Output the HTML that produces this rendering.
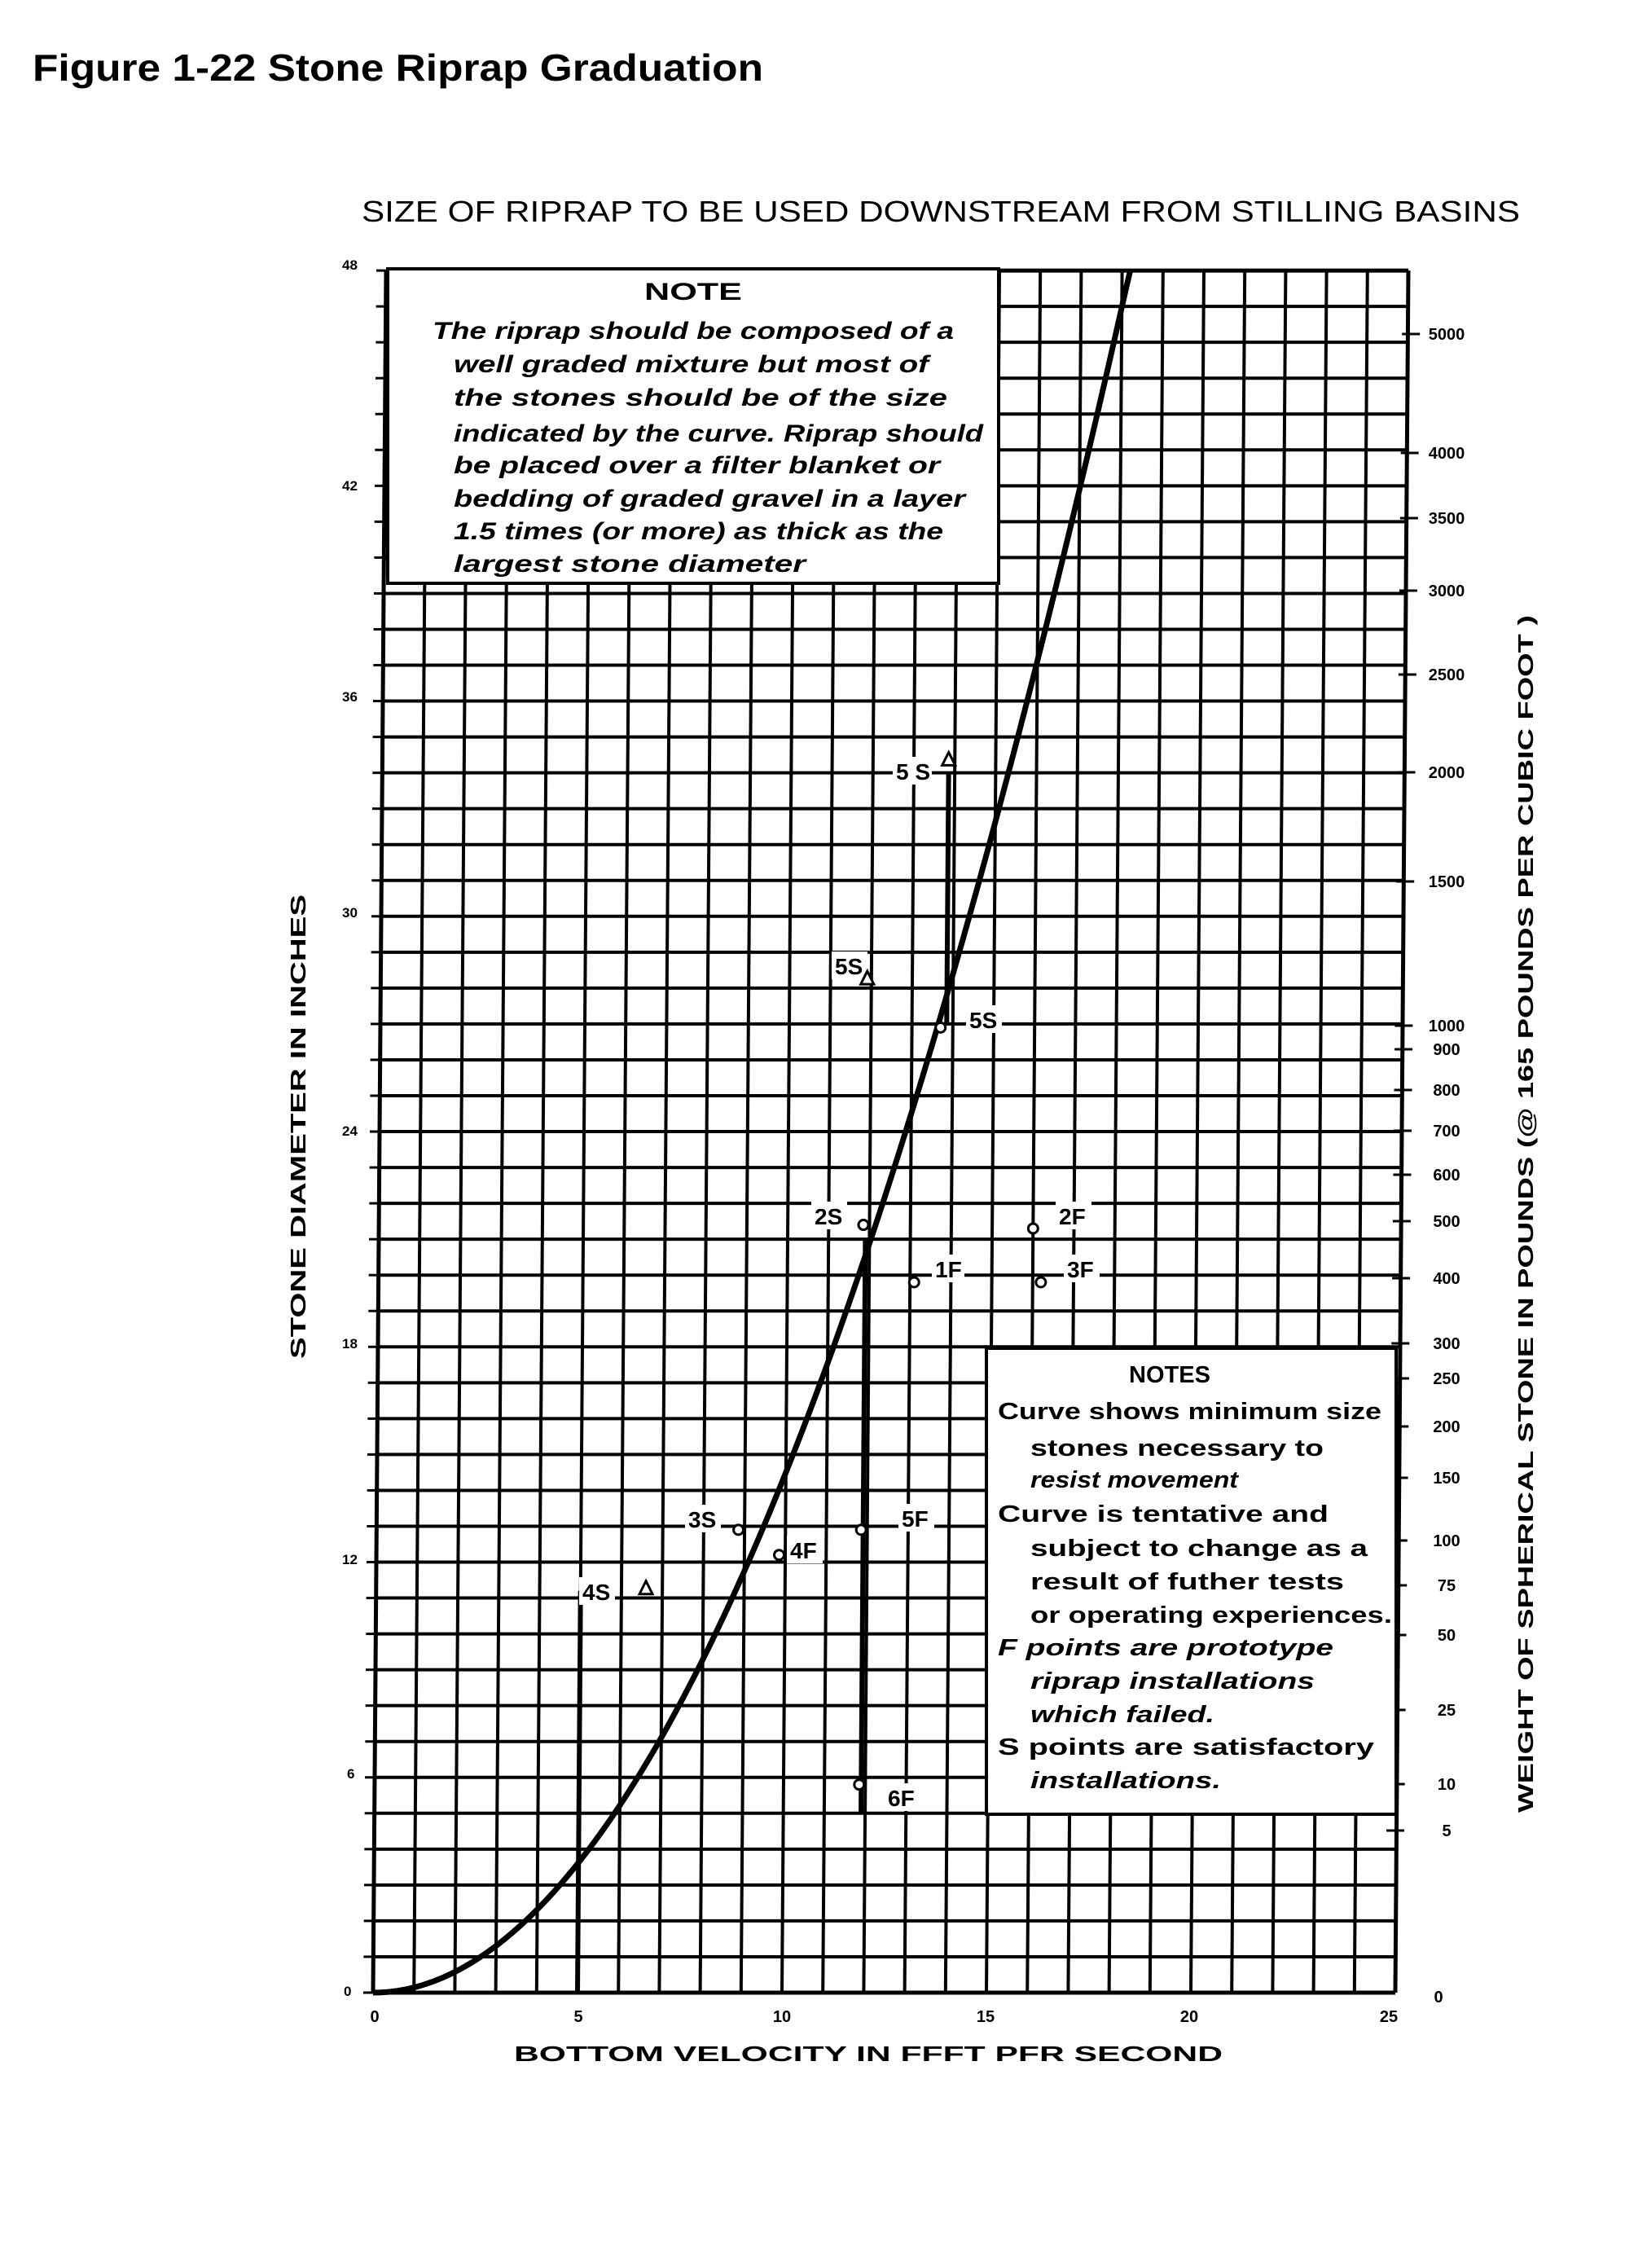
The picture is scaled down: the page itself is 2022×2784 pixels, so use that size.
<!DOCTYPE html>
<html><head><meta charset="utf-8"><style>
html,body{margin:0;padding:0;background:#fff;}
svg{display:block;}
text{font-family:"Liberation Sans",sans-serif;font-weight:bold;fill:#000;}
</style></head><body>
<svg id="s" width="2022" height="2784" viewBox="0 0 2022 2784" xmlns="http://www.w3.org/2000/svg">
<rect width="2022" height="2784" fill="#fff"/>
<text x="40" y="99" font-size="46" textLength="897" lengthAdjust="spacingAndGlyphs">Figure 1-22  Stone Riprap Graduation</text>
<text x="444" y="272" font-size="36" textLength="1422" lengthAdjust="spacingAndGlyphs" style="font-weight:normal">SIZE OF RIPRAP TO BE USED DOWNSTREAM FROM STILLING BASINS</text>
<g id="grid"></g>
<g id="over"></g>
<g font-size="17">
<text x="420" y="331">48</text><text x="420" y="602">42</text><text x="420" y="861">36</text>
<text x="420" y="1126">30</text><text x="420" y="1394">24</text><text x="420" y="1655">18</text>
<text x="420" y="1920">12</text><text x="426" y="2183">6</text><text x="422" y="2450">0</text>
</g>
<g font-size="20" text-anchor="middle">
<text x="460" y="2482">0</text><text x="710" y="2482">5</text><text x="960" y="2482">10</text>
<text x="1210" y="2482">15</text><text x="1460" y="2482">20</text><text x="1705" y="2482">25</text>
<text x="1766" y="2458">0</text>
</g>
<text x="1066" y="2530" font-size="26" text-anchor="middle" textLength="870" lengthAdjust="spacingAndGlyphs">BOTTOM  VELOCITY  IN  FFFT  PFR  SECOND</text>
<text transform="translate(375,1383) rotate(-90)" font-size="26" text-anchor="middle" textLength="570" lengthAdjust="spacingAndGlyphs">STONE  DIAMETER  IN  INCHES</text>
<text transform="translate(1882,1490) rotate(-90)" font-size="26" text-anchor="middle" textLength="1470" lengthAdjust="spacingAndGlyphs">WEIGHT  OF  SPHERICAL  STONE  IN  POUNDS   (@  165  POUNDS  PER  CUBIC  FOOT )</text>
<g id="rlab" font-size="20"></g>
<rect x="476" y="330" width="750" height="386" fill="#fff" stroke="#000" stroke-width="4"/>
<g font-size="30" font-style="italic">
<text x="851" y="368" text-anchor="middle" font-style="normal" textLength="120" lengthAdjust="spacingAndGlyphs">NOTE</text>
<text x="531" y="416" textLength="640" lengthAdjust="spacingAndGlyphs">The riprap should be composed of a</text>
<text x="557" y="457" textLength="583" lengthAdjust="spacingAndGlyphs">well graded mixture but most of</text>
<text x="557" y="498" textLength="606" lengthAdjust="spacingAndGlyphs">the stones should be of the size</text>
<text x="557" y="542" textLength="650" lengthAdjust="spacingAndGlyphs">indicated by the curve. Riprap should</text>
<text x="557" y="581" textLength="597" lengthAdjust="spacingAndGlyphs">be placed over a filter blanket or</text>
<text x="557" y="622" textLength="628" lengthAdjust="spacingAndGlyphs">bedding of graded gravel in a layer</text>
<text x="557" y="662" textLength="601" lengthAdjust="spacingAndGlyphs">1.5 times (or more) as thick as the</text>
<text x="557" y="702" textLength="432" lengthAdjust="spacingAndGlyphs">largest stone diameter</text>
</g>
<rect x="1211" y="1655" width="503" height="572" fill="#fff" stroke="#000" stroke-width="4"/>
<g font-size="29">
<text x="1436" y="1697" text-anchor="middle" textLength="100" lengthAdjust="spacingAndGlyphs">NOTES</text>
<text x="1225" y="1742" textLength="471" lengthAdjust="spacingAndGlyphs">Curve shows minimum size</text>
<text x="1265" y="1787" textLength="360" lengthAdjust="spacingAndGlyphs">stones necessary to</text>
<text x="1265" y="1826" textLength="255" lengthAdjust="spacingAndGlyphs" font-style="italic">resist movement</text>
<text x="1225" y="1868" textLength="406" lengthAdjust="spacingAndGlyphs">Curve is tentative and</text>
<text x="1265" y="1910" textLength="414" lengthAdjust="spacingAndGlyphs">subject to change as a</text>
<text x="1265" y="1951" textLength="385" lengthAdjust="spacingAndGlyphs">result of futher tests</text>
<text x="1265" y="1992" textLength="444" lengthAdjust="spacingAndGlyphs">or operating experiences.</text>
<text x="1225" y="2032" textLength="412" lengthAdjust="spacingAndGlyphs" font-style="italic">F points are prototype</text>
<text x="1265" y="2073" textLength="349" lengthAdjust="spacingAndGlyphs" font-style="italic">riprap installations</text>
<text x="1265" y="2114" textLength="226" lengthAdjust="spacingAndGlyphs" font-style="italic">which failed.</text>
<text x="1225" y="2154" textLength="462" lengthAdjust="spacingAndGlyphs">S points are satisfactory</text>
<text x="1265" y="2195" textLength="234" lengthAdjust="spacingAndGlyphs" font-style="italic">installations.</text>
</g>
<g id="pts"></g>
<script>
(function(){
var NS="http://www.w3.org/2000/svg";
function P(v,d){return [458+v*50.2+d*16/48, 2446-d*44.04];}
function el(p,t,a){var e=document.createElementNS(NS,t);for(var k in a)e.setAttribute(k,a[k]);p.appendChild(e);return e;}
var g=document.getElementById('grid');
for(var v=0;v<=25;v++){var a=P(v,0),b=P(v,48);el(g,'line',{x1:a[0],y1:a[1],x2:b[0],y2:b[1],stroke:'#000','stroke-width':(v==0||v==25)?5:4});}
for(var d=0;d<=48;d++){var a=P(0,d),b=P(25,d);el(g,'line',{x1:a[0],y1:a[1],x2:b[0],y2:b[1],stroke:'#000','stroke-width':(d==0||d==48)?5:4});}
for(var d=0;d<=48;d++){var a=P(0,d);el(g,'line',{x1:a[0]-12,y1:a[1],x2:a[0],y2:a[1],stroke:'#000','stroke-width':3});}
var rl=[[5000,410],[4000,556],[3500,636],[3000,725],[2500,828],[2000,948],[1500,1082],[1000,1259],[900,1288],[800,1338],[700,1388],[600,1442],[500,1499],[400,1569],[300,1649],[250,1692],[200,1751],[150,1814],[100,1891],[75,1946],[50,2007],[25,2099],[10,2190],[5,2247]];
var rg=document.getElementById('rlab');
rl.forEach(function(r){var y=r[1];var x=1722-(y-332)*0.0104;el(g,'line',{x1:x,y1:y,x2:x+22,y2:y,stroke:'#000','stroke-width':3});var t=el(rg,'text',{x:1776,y:y+7,'text-anchor':'middle'});t.textContent=r[0];});
var o=document.getElementById('over');
function L(v1,d1,v2,d2,w){var a=P(v1,d1),b=P(v2,d2);el(o,'line',{x1:a[0],y1:a[1],x2:b[0],y2:b[1],stroke:'#000','stroke-width':w||6});}
L(5,0,5,11.2,6);L(11.9,5,11.9,21,6);L(13.85,27,13.85,34,6);
var pts=[];for(var v=0;v<=18.4;v+=0.1){var dd=0.145*v*v;if(dd>48)dd=48;pts.push(P(v,dd).join(','));if(dd>=48)break;}
el(o,'polyline',{points:pts.join(' '),fill:'none',stroke:'#000','stroke-width':7});
var pg=document.getElementById('pts');
function lab(px,py,txt,w){el(pg,'rect',{x:px-4,y:py-28,width:w,height:34,fill:'#fff'});var t=el(pg,'text',{x:px,y:py,'font-size':28});t.textContent=txt;}
function circ(v,d){var p=P(v,d);el(pg,'circle',{cx:p[0],cy:p[1],r:6,fill:'#fff',stroke:'#000','stroke-width':3});}
function tri(v,d){var p=P(v,d);el(pg,'polygon',{points:(p[0])+','+(p[1]-12)+' '+(p[0]-8)+','+(p[1]+4)+' '+(p[0]+8)+','+(p[1]+4),fill:'#fff',stroke:'#000','stroke-width':3});}
lab(1100,957,'5 S',48);tri(13.85,34.3);
lab(1025,1196,'5S',44);tri(11.9,28.2);
lab(1190,1262,'5S',44);circ(13.7,26.9);
lab(1000,1503,'2S',44);circ(11.85,21.4);
lab(1148,1568,'1F',40);circ(13.1,19.8);
lab(1300,1503,'2F',44);circ(16.0,21.3);
lab(1310,1568,'3F',44);circ(16.2,19.8);
lab(845,1875,'3S',44);circ(8.85,12.9);
lab(970,1913,'4F',44);circ(9.85,12.2);
lab(1107,1874,'5F',44);circ(11.85,12.9);
lab(715,1964,'4S',44);tri(6.6,11.2);
lab(1090,2217,'6F',44);circ(11.85,5.8);
})();
</script>
</svg>
</body></html>
